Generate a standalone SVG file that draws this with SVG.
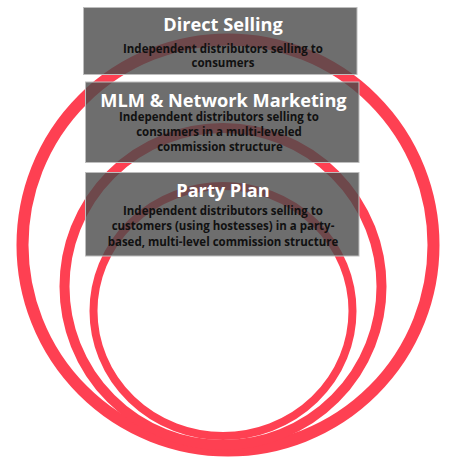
<svg xmlns="http://www.w3.org/2000/svg" width="454" height="462" viewBox="0 0 454 462">
<style>
.ring{fill:none;stroke:#fe4052}
.box{fill:#4a4a4a;fill-opacity:0.8;stroke:#bdbdbd;stroke-width:1}
.title{font-family:"Open Sans","Liberation Sans",sans-serif;font-weight:bold;font-size:18.2px;fill:#ffffff;text-anchor:middle}
.sub{font-family:"Open Sans","Liberation Sans",sans-serif;font-weight:bold;font-size:11.5px;fill:#111111;text-anchor:middle}
</style>
<rect width="454" height="462" fill="#ffffff"/>
<g id="rings">
<circle class="ring" cx="228" cy="245" r="205.5" stroke-width="12"/>
<circle class="ring" cx="223" cy="286.5" r="158.5" stroke-width="10"/>
<ellipse class="ring" cx="223" cy="311" rx="129.5" ry="125" stroke-width="8"/>
</g>
<g id="direct-selling">
<rect class="box" x="83.5" y="7.5" width="273.5" height="67"/>
<text class="title" x="223" y="31">Direct Selling</text>
<text class="sub" x="223" y="52.7">Independent distributors selling to</text>
<text class="sub" x="223" y="67.3">consumers</text>
</g>
<g id="mlm">
<rect class="box" x="85.5" y="82" width="273.5" height="80.5"/>
<text class="title" x="223.5" y="107">MLM &amp; Network Marketing</text>
<text class="sub" x="219" y="121.3">Independent distributors selling to</text>
<text class="sub" x="219" y="136">consumers in a multi-leveled</text>
<text class="sub" x="220" y="150.7">commission structure</text>
</g>
<g id="party-plan">
<rect class="box" x="85.5" y="172.5" width="273.5" height="83.5"/>
<text class="title" x="223" y="197.3">Party Plan</text>
<text class="sub" x="223" y="215">Independent distributors selling to</text>
<text class="sub" x="223" y="230">customers (using hostesses) in a party-</text>
<text class="sub" x="223" y="245.7">based, multi-level commission structure</text>
</g>
</svg>
